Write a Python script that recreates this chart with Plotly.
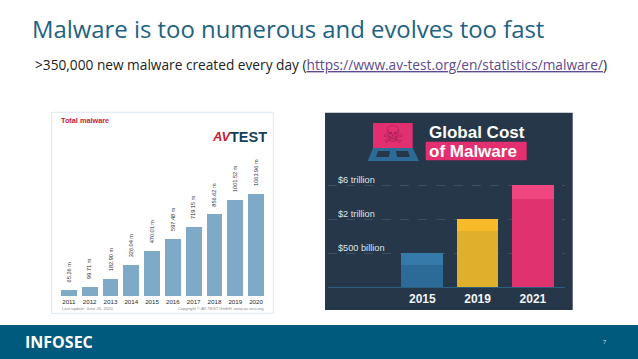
import plotly.graph_objects as go

W, H = 638, 359

# ---- data ----
malware_years = ["2011", "2012", "2013", "2014", "2015", "2016", "2017", "2018", "2019", "2020"]
malware_millions = [65.26, 99.71, 182.90, 326.04, 470.01, 597.48, 719.15, 856.62, 1001.52, 1063.96]
malware_labels = ["65.26 m", "99.71 m", "182.90 m", "326.04 m", "470.01 m", "597.48 m",
                  "719.15 m", "856.62 m", "1001.52 m", "1063.96 m"]

cost_years = ["2015", "2019", "2021"]
cost_body = [0.66, 1.67, 2.60]
cost_cap = [0.34, 0.33, 0.40]
cost_body_colors = ["#2c6a98", "#e0b02c", "#e0326e"]
cost_cap_colors = ["#357aa8", "#f7bb2a", "#f0467f"]
cost_levels = [1, 2, 3]
cost_level_labels = ["$500 billion", "$2 trillion", "$6 trillion"]

TITLE = "Malware is too numerous and evolves too fast"
OPEN = "Open Sans"


def px(x):
    return x / W


def py(y):
    return 1 - y / H


fig = go.Figure()

fig.add_trace(go.Bar(x=malware_years, y=malware_millions, marker_color="#7faac7", marker_line_width=0,
                     xaxis="x", yaxis="y", showlegend=False))
fig.add_trace(go.Bar(x=cost_years, y=cost_body, marker_color=cost_body_colors, marker_line_width=0,
                     xaxis="x2", yaxis="y2", showlegend=False))
fig.add_trace(go.Bar(x=cost_years, y=cost_cap, marker_color=cost_cap_colors, marker_line_width=0,
                     xaxis="x2", yaxis="y2", showlegend=False))

ann = []


def text(x, y, s, size, color, family=OPEN, xanchor="left", yanchor="middle", angle=0):
    ann.append(dict(x=px(x), y=py(y), xref="paper", yref="paper", text=s, showarrow=False,
                    xanchor=xanchor, yanchor=yanchor, textangle=angle, align="left",
                    font=dict(size=size, color=color, family=family),
                    borderpad=0, borderwidth=0))


text(32, 28, TITLE, 23.9, "#1d6283")
text(34.5, 65, '&gt;350,000 new malware created every day (<span style="color:#5e4a8e"><u>https://www.av-test.org/en/statistics/malware/</u></span>)',
     13.7, "#222222")
text(25, 341.5, "<b>INFOSEC</b>", 16, "#ffffff")
text(604, 342, "7", 5.5, "#dfe8ee", xanchor="center")

# left card texts
text(61, 120, "<b>Total malware</b>", 7.3, "#c0243a", family="Liberation Sans")
text(212, 136.5, "<b><i>AV</i></b>", 13, "#c8202f", family="Liberation Sans")
text(230, 136.5, "<b>TEST</b>", 14.5, "#123f5c", family="Liberation Sans")
text(62, 308, "Last update: June 26, 2020", 4.2, "#8a8a8a", family="Liberation Sans")
text(264, 308, "Copyright © AV-TEST GmbH, www.av-test.org", 4.2, "#8a8a8a",
     family="Liberation Sans", xanchor="right")

# left value labels
for i, (v, lab) in enumerate(zip(malware_millions, malware_labels)):
    ann.append(dict(x=i, y=v, xref="x", yref="y", text=lab, showarrow=False, textangle=-90,
                    yanchor="bottom", yshift=6, font=dict(size=5.6, color="#1f2b35",
                                                         family="Liberation Sans")))

# right header
text(429, 132.5, "<b>Global Cost</b>", 17, "#ffffff", family="Liberation Sans")
text(429, 151, "<b>of Malware</b>", 17, "#ffffff", family="Liberation Sans")
text(392.8, 135, "☠", 24, "#a81f57", family="DejaVu Sans", xanchor="center")

# right level labels
for lev, lab in zip(cost_levels, cost_level_labels):
    ann.append(dict(x=0.035, y=lev, xref="x2 domain", yref="y2", text=lab, showarrow=False,
                    xanchor="left", yanchor="bottom", yshift=-2,
                    font=dict(size=9.2, color="#dfe4e8", family="Liberation Sans")))


def rect(x0, y0, x1, y1, fill, line=None):
    return dict(type="rect", xref="paper", yref="paper", x0=px(x0), x1=px(x1), y0=py(y0), y1=py(y1),
                fillcolor=fill, line=dict(width=1 if line else 0, color=line or fill), layer="below")


def poly(points, fill):
    path = "M " + " L ".join(f"{px(a):.5f},{py(b):.5f}" for a, b in points) + " Z"
    return dict(type="path", xref="paper", yref="paper", path=path, fillcolor=fill,
                line=dict(width=0), layer="below")


shapes = [
    rect(0, 325, W, H, "#005a7d"),
    rect(51.7, 112.3, 273.3, 313.3, "#ffffff", "#dde7f2"),
    rect(325, 112.7, 572.7, 310, "#253748"),
    rect(425.7, 141.7, 526.7, 160.3, "#e22f70"),
    rect(373, 123, 412.7, 148, "#e22f70"),
    poly([(373, 148), (412.7, 148), (419, 161), (367.7, 161)], "#2c6a98"),
    poly([(378, 151), (390, 151), (389, 157), (376, 157)], "#253748"),
    poly([(396, 151), (408, 151), (410, 157), (397, 157)], "#253748"),
]

fig.update_layout(
    width=W, height=H, autosize=False,
    margin=dict(l=0, r=0, t=0, b=0),
    paper_bgcolor="#ffffff", plot_bgcolor="rgba(0,0,0,0)",
    barmode="stack", bargap=0.245, showlegend=False,
    shapes=shapes, annotations=ann,
    xaxis=dict(domain=[px(58.45), px(266.45)], anchor="y", type="category",
               range=[-0.5, 9.5], showgrid=False, showline=False, ticks="", fixedrange=True,
               tickfont=dict(size=6.2, color="#222a30", family="Liberation Sans"), ticklabelstandoff=0),
    yaxis=dict(domain=[py(296.3), py(172)], anchor="x", range=[0, 1297], visible=False),
    xaxis2=dict(domain=[px(328), px(565)], anchor="y2", type="category",
                range=[-1.705, 2.58], showgrid=False, showline=True, linecolor="#2b5f80", linewidth=1,
                ticks="", tickfont=dict(size=12, color="#f2f4f6", family="Liberation Sans"),
                tickprefix="<b>", ticksuffix="</b>"),
    yaxis2=dict(domain=[py(287.3), py(170)], anchor="x2", range=[0, 3.45],
                tickvals=cost_levels, showticklabels=False, showgrid=True, griddash="dash",
                gridcolor="#3b5060", gridwidth=1, zeroline=False, showline=False, ticks=""),
)

fig.write_html("out.html", config={"displayModeBar": False},
               post_script="document.body.style.margin='0';document.body.style.overflow='hidden';")
